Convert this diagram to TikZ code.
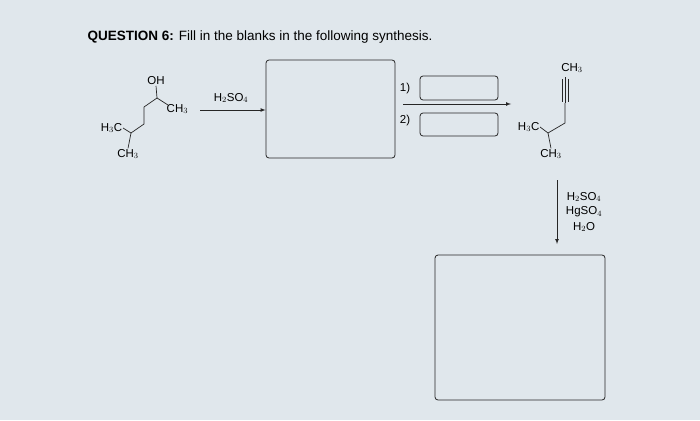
\documentclass[tikz,border=0pt]{standalone}
\usepackage{fontspec}
\setmainfont{Liberation Sans}
\begin{document}
\begin{tikzpicture}[x=1pt,y=-1pt,
  lbl/.style={font=\fontsize{11.5}{12}\selectfont,inner sep=0.5pt},
  bx/.style={draw=black!85,line width=0.8pt,rounded corners=3pt},
  bond/.style={line width=0.7pt,draw=black!85},
  arr/.style={line width=0.7pt,draw=black!85,-latex}]
\definecolor{bg}{RGB}{224,231,236}
\fill[bg] (0,0) rectangle (700,420);
\useasboundingbox (0,0) rectangle (700,420);
\node[anchor=west,font=\fontsize{13.5}{15}\selectfont] (title) at (84,37) {\textbf{QUESTION 6:} Fill in the blanks in the following synthesis.};
% left molecule
\node[lbl] (oh) at (156,81) {OH};
\coordinate (c2) at (157,98);
\coordinate (c3) at (144,107);
\coordinate (c4) at (144,124);
\coordinate (c5) at (131,133);
\node[lbl,anchor=west] (me1) at (166,109) {CH$_3$};
\node[lbl,anchor=east] (me2) at (123,128) {H$_3$C};
\node[lbl] (me3) at (128,154) {CH$_3$};
\draw[bond] (oh.south) -- (c2);
\draw[bond] (c2) -- (168,105);
\draw[bond] (c2) -- (c3) -- (c4) -- (c5) -- (me2.east);
\draw[bond] (c5) -- (me3.north);
% arrow 1
\node[lbl] (r1) at (231,98) {H$_2$SO$_4$};
\coordinate (a1s) at (200,110);
\node[bx,minimum width=129pt,minimum height=98pt] (b1) at (330.5,109) {};
\draw[arr] (a1s) -- (b1.west|-a1s);
% reagent boxes
\node[bx,minimum width=78pt,minimum height=24pt] (b2) at (459,88) {};
\node[bx,minimum width=78pt,minimum height=23pt] (b3) at (459,124.5) {};
\node[lbl] (n1) at (405,89) {1)};
\node[lbl] (n2) at (405,121) {2)};
\coordinate (a2s) at (403,104);
\coordinate (a2e) at (511,104);
\draw[arr] (a2s) -- (a2e);
% right molecule
\node[lbl] (rm1) at (572,68) {CH$_3$};
\coordinate (t1) at (565,77);
\coordinate (t2) at (565,103);
\coordinate (d1) at (565,123);
\coordinate (d2) at (548,133);
\node[lbl,anchor=east] (rm2) at (540,127) {H$_3$C};
\node[lbl] (rm3) at (551,154) {CH$_3$};
\draw[bond] (t1) -- (t2);
\draw[bond] (562,79) -- (562,102);
\draw[bond] (568,79) -- (568,102);
\draw[bond] (t2) -- (d1) -- (d2) -- (rm2.east);
\draw[bond] (d2) -- (rm3.north);
% down arrow
\coordinate (a3s) at (557,180);
\node[bx,minimum width=170pt,minimum height=145pt] (b4) at (520,327.5) {};
\draw[arr] (a3s) -- (557,244);
\node[lbl] (g1) at (584,197) {H$_2$SO$_4$};
\node[lbl] (g2) at (584,212) {HgSO$_4$};
\node[lbl] (g3) at (584,227) {H$_2$O};
\end{tikzpicture}
\end{document}
